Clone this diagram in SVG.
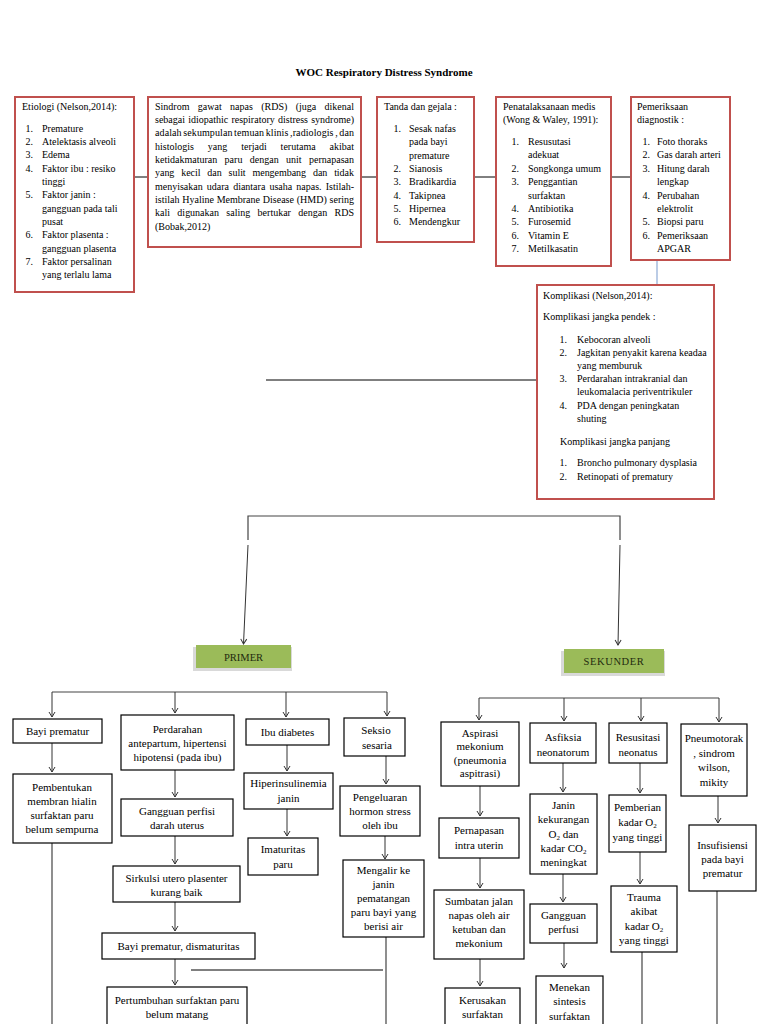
<svg xmlns="http://www.w3.org/2000/svg" width="768" height="1024" viewBox="0 0 768 1024">
<defs>
<marker id="ah" markerWidth="8" markerHeight="8" refX="6" refY="4" orient="auto" markerUnits="userSpaceOnUse"><path d="M1,1 L6,4 L1,7" fill="none" stroke="#333" stroke-width="1"/></marker>
<style>
.rb{fill:#fff;stroke:#c0504d;stroke-width:2}
.bb{fill:#fff;stroke:#000;stroke-width:1.2}
.gb{fill:#9bbb59;stroke:none}
.gs{fill:#d9d9d9;stroke:none}
.t{font-family:"Liberation Serif","Times New Roman",serif;font-size:10px;fill:#000}
.n{font-family:"Liberation Serif","Times New Roman",serif;font-size:10px;fill:#000;text-anchor:end}
.f{font-family:"Liberation Serif","Times New Roman",serif;font-size:11px;fill:#000;text-anchor:middle}
.g{font-family:"Liberation Serif","Times New Roman",serif;font-size:10.5px;fill:#1e2a0e;text-anchor:middle}
.title{font-family:"Liberation Serif","Times New Roman",serif;font-size:11px;font-weight:bold;fill:#000;text-anchor:middle}
.ln{stroke:#000;stroke-width:1;fill:none}
.gl{stroke:#444;stroke-width:1.2;fill:none}
.ar{stroke:#333;stroke-width:1;fill:none;marker-end:url(#ah)}
.sub{font-size:7px}
</style>
</defs>
<rect width="768" height="1024" fill="#fff"/>
<text class="title" x="384" y="76">WOC Respiratory Distress Syndrome</text>

<g id="connectors">
<line class="ln" x1="134" y1="177" x2="148" y2="177"/>
<line class="ln" x1="361" y1="177" x2="377" y2="177"/>
<line class="ln" x1="474" y1="177" x2="496" y2="177"/>
<line class="ln" x1="611" y1="177" x2="631" y2="177"/>
<line x1="657" y1="261" x2="657" y2="285" stroke="#8eaad6" stroke-width="1.2"/>
<line class="ln" x1="266" y1="380" x2="537" y2="380"/>
<path class="gl" d="M248,540 V516 H620 V540"/>
<line class="ar" x1="248" y1="545" x2="243.5" y2="644"/>
<line class="ar" x1="620" y1="545" x2="618" y2="645"/>
<line class="gl" x1="52" y1="692" x2="387" y2="692"/>
<line class="ar" x1="52" y1="692" x2="52" y2="717"/>
<line class="ar" x1="175" y1="692" x2="175" y2="713"/>
<line class="ar" x1="286" y1="692" x2="286" y2="717"/>
<line class="ar" x1="387" y1="692" x2="387" y2="716"/>
<line class="gl" x1="479" y1="698" x2="719" y2="698"/>
<line class="ar" x1="479" y1="698" x2="479" y2="720"/>
<line class="ar" x1="564" y1="698" x2="564" y2="721"/>
<line class="ar" x1="641" y1="698" x2="641" y2="721"/>
<line class="ar" x1="719" y1="698" x2="719" y2="722"/>
<line class="ar" x1="52" y1="743" x2="52" y2="772"/>
<line class="ar" x1="175" y1="770" x2="175" y2="797"/>
<line class="ar" x1="175" y1="836" x2="175" y2="864"/>
<line class="ar" x1="175" y1="902" x2="175" y2="931"/>
<line class="ar" x1="175" y1="959" x2="175" y2="985"/>
<line class="ar" x1="287" y1="745" x2="287" y2="771"/>
<line class="ar" x1="287" y1="809" x2="287" y2="836"/>
<line class="ar" x1="386" y1="756" x2="386" y2="784"/>
<line class="ar" x1="385" y1="836" x2="385" y2="859"/>
<line class="gl" x1="52" y1="843" x2="52" y2="1024"/>
<line class="gl" x1="386" y1="937" x2="386" y2="1024"/>
<line class="ln" x1="191" y1="970" x2="383" y2="970"/>
<line class="ar" x1="480" y1="786" x2="480" y2="816"/>
<line class="ar" x1="480" y1="858" x2="480" y2="888"/>
<line class="ar" x1="480" y1="959" x2="480" y2="986"/>
<line class="ar" x1="563" y1="763" x2="563" y2="792"/>
<line class="ar" x1="563" y1="874" x2="563" y2="902"/>
<line class="ar" x1="564" y1="943" x2="564" y2="968"/>
<line class="ar" x1="640" y1="763" x2="640" y2="793"/>
<line class="ar" x1="640" y1="852" x2="640" y2="884"/>
<line class="ar" x1="718" y1="796" x2="718" y2="823"/>
<line class="gl" x1="642" y1="952" x2="642" y2="1024"/>
<line class="gl" x1="717" y1="891" x2="717" y2="1024"/>
</g>

<g id="etiologi">
<rect class="rb" x="15" y="97" width="119" height="195"/>
<text class="t" x="22" y="109.5">Etiologi (Nelson,2014):</text>
<text class="n" x="33" y="131.5">1.</text><text class="t" x="42" y="131.5">Premature</text>
<text class="n" x="33" y="144.8">2.</text><text class="t" x="42" y="144.8">Atelektasis alveoli</text>
<text class="n" x="33" y="158.1">3.</text><text class="t" x="42" y="158.1">Edema</text>
<text class="n" x="33" y="171.5">4.</text><text class="t" x="42" y="171.5">Faktor ibu : resiko</text>
<text class="t" x="42" y="184.8">tinggi</text>
<text class="n" x="33" y="198.1">5.</text><text class="t" x="42" y="198.1">Faktor janin :</text>
<text class="t" x="42" y="211.5">gangguan pada tali</text>
<text class="t" x="42" y="224.8">pusat</text>
<text class="n" x="33" y="238.1">6.</text><text class="t" x="42" y="238.1">Faktor plasenta :</text>
<text class="t" x="42" y="251.5">gangguan plasenta</text>
<text class="n" x="33" y="264.8">7.</text><text class="t" x="42" y="264.8">Faktor persalinan</text>
<text class="t" x="42" y="278.1">yang terlalu lama</text>
</g>

<g id="definisi">
<rect class="rb" x="148" y="97" width="213" height="150"/>
<text class="t" x="155" y="109.5" word-spacing="5.8" textLength="199" lengthAdjust="spacing">Sindrom gawat napas (RDS) (juga dikenal</text>
<text class="t" x="155" y="122.8" word-spacing="0.7" textLength="199" lengthAdjust="spacing">sebagai idiopathic respiratory distress syndrome)</text>
<text class="t" x="155" y="136.2" word-spacing="-1" textLength="199" lengthAdjust="spacing">adalah sekumpulan temuan klinis ,radiologis , dan</text>
<text class="t" x="155" y="149.5" word-spacing="11.4" textLength="199" lengthAdjust="spacing">histologis yang terjadi terutama akibat</text>
<text class="t" x="155" y="162.8" word-spacing="4.9" textLength="199" lengthAdjust="spacing">ketidakmaturan paru dengan unit pernapasan</text>
<text class="t" x="155" y="176.2" word-spacing="4.4" textLength="199" lengthAdjust="spacing">yang kecil dan sulit mengembang dan tidak</text>
<text class="t" x="155" y="189.5" word-spacing="1.6" textLength="199" lengthAdjust="spacing">menyisakan udara diantara usaha napas. Istilah-</text>
<text class="t" x="155" y="202.8" word-spacing="0.3" textLength="199" lengthAdjust="spacing">istilah Hyaline Membrane Disease (HMD) sering</text>
<text class="t" x="155" y="216.2" word-spacing="4.9" textLength="199" lengthAdjust="spacing">kali digunakan saling bertukar dengan RDS</text>
<text class="t" x="155" y="229.5">(Bobak,2012)</text>
</g>

<g id="tanda">
<rect class="rb" x="377" y="97" width="97" height="145"/>
<text class="t" x="384" y="109.5">Tanda dan gejala :</text>
<text class="n" x="401" y="131.5">1.</text><text class="t" x="409" y="131.5">Sesak nafas</text>
<text class="t" x="409" y="145">pada bayi</text>
<text class="t" x="409" y="158.5">premature</text>
<text class="n" x="401" y="172">2.</text><text class="t" x="409" y="172">Sianosis</text>
<text class="n" x="401" y="185">3.</text><text class="t" x="409" y="185">Bradikardia</text>
<text class="n" x="401" y="198.5">4.</text><text class="t" x="409" y="198.5">Takipnea</text>
<text class="n" x="401" y="211.5">5.</text><text class="t" x="409" y="211.5">Hipernea</text>
<text class="n" x="401" y="224.5">6.</text><text class="t" x="409" y="224.5">Mendengkur</text>
</g>

<g id="penatalaksanaan">
<rect class="rb" x="496" y="97" width="115" height="169"/>
<text class="t" x="503" y="109.5">Penatalaksanaan medis</text>
<text class="t" x="503" y="122.8">(Wong &amp; Waley, 1991):</text>
<text class="n" x="519" y="144.5">1.</text><text class="t" x="528" y="144.5">Resusutasi</text>
<text class="t" x="528" y="158">adekuat</text>
<text class="n" x="519" y="171.5">2.</text><text class="t" x="528" y="171.5">Songkonga umum</text>
<text class="n" x="519" y="185">3.</text><text class="t" x="528" y="185">Penggantian</text>
<text class="t" x="528" y="198.5">surfaktan</text>
<text class="n" x="519" y="211.5">4.</text><text class="t" x="528" y="211.5">Antibiotika</text>
<text class="n" x="519" y="225">5.</text><text class="t" x="528" y="225">Furosemid</text>
<text class="n" x="519" y="238.5">6.</text><text class="t" x="528" y="238.5">Vitamin E</text>
<text class="n" x="519" y="252">7.</text><text class="t" x="528" y="252">Metilkasatin</text>
</g>

<g id="pemeriksaan">
<rect class="rb" x="631" y="97" width="99" height="163"/>
<text class="t" x="637" y="109.5">Pemeriksaan</text>
<text class="t" x="637" y="122.8">diagnostik :</text>
<text class="n" x="650" y="144.5">1.</text><text class="t" x="657" y="144.5">Foto thoraks</text>
<text class="n" x="650" y="158">2.</text><text class="t" x="657" y="158">Gas darah arteri</text>
<text class="n" x="650" y="171.5">3.</text><text class="t" x="657" y="171.5">Hitung darah</text>
<text class="t" x="657" y="185">lengkap</text>
<text class="n" x="650" y="198.5">4.</text><text class="t" x="657" y="198.5">Perubahan</text>
<text class="t" x="657" y="211.5">elektrolit</text>
<text class="n" x="650" y="225">5.</text><text class="t" x="657" y="225">Biopsi paru</text>
<text class="n" x="650" y="238.5">6.</text><text class="t" x="657" y="238.5">Pemeriksaan</text>
<text class="t" x="657" y="252">APGAR</text>
</g>

<g id="komplikasi">
<rect class="rb" x="537" y="285" width="177" height="214"/>
<text class="t" x="543" y="298.5">Komplikasi (Nelson,2014):</text>
<text class="t" x="543" y="319.5">Komplikasi jangka pendek :</text>
<text class="n" x="567" y="342.5">1.</text><text class="t" x="577" y="342.5">Kebocoran alveoli</text>
<text class="n" x="567" y="355.5">2.</text><text class="t" x="577" y="355.5">Jagkitan penyakit karena keadaa</text>
<text class="t" x="577" y="368.5">yang memburuk</text>
<text class="n" x="567" y="381.5">3.</text><text class="t" x="577" y="381.5">Perdarahan intrakranial dan</text>
<text class="t" x="577" y="395">leukomalacia periventrikuler</text>
<text class="n" x="567" y="408.5">4.</text><text class="t" x="577" y="408.5">PDA dengan peningkatan</text>
<text class="t" x="577" y="422">shuting</text>
<text class="t" x="560" y="445">Komplikasi jangka panjang</text>
<text class="n" x="567" y="466">1.</text><text class="t" x="577" y="466">Broncho pulmonary dysplasia</text>
<text class="n" x="567" y="479.5">2.</text><text class="t" x="577" y="479.5">Retinopati of prematury</text>
</g>

<g id="primer">
<rect class="gs" x="193" y="647" width="99" height="24"/>
<rect class="gb" x="196" y="645" width="95" height="23"/>
<text class="g" x="243.5" y="660.5">PRIMER</text>
</g>
<g id="sekunder">
<rect class="gs" x="561" y="651" width="104" height="25"/>
<rect class="gb" x="564" y="649" width="100" height="24"/>
<text class="g" x="614" y="665" letter-spacing="0.6">SEKUNDER</text>
</g>

<g id="bayi-prematur">
<rect class="bb" x="13" y="719" width="89" height="24"/>
<text class="f" x="57.5" y="735">Bayi prematur</text>
</g>
<g id="perdarahan">
<rect class="bb" x="121" y="715" width="113" height="55"/>
<text class="f" x="177.5" y="732.5">Perdarahan</text>
<text class="f" x="177.5" y="746.5">antepartum, hipertensi</text>
<text class="f" x="177.5" y="760.5">hipotensi (pada ibu)</text>
</g>
<g id="ibu-diabetes">
<rect class="bb" x="246" y="719" width="83" height="26"/>
<text class="f" x="287.5" y="736">Ibu diabetes</text>
</g>
<g id="seksio">
<rect class="bb" x="344" y="718" width="61" height="38"/>
<text class="f" x="376" y="733.5">Seksio</text>
<text class="f" x="377" y="748.5">sesaria</text>
</g>
<g id="pembentukan">
<rect class="bb" x="13" y="774" width="99" height="69"/>
<text class="f" x="62" y="790.5">Pembentukan</text>
<text class="f" x="62" y="804.5">membran hialin</text>
<text class="f" x="62" y="818.5">surfaktan paru</text>
<text class="f" x="62" y="832.5">belum sempurna</text>
</g>
<g id="gangguan-perfusi-primer">
<rect class="bb" x="121" y="799" width="112" height="37"/>
<text class="f" x="177" y="814.5">Gangguan perfisi</text>
<text class="f" x="177" y="828.5">darah uterus</text>
</g>
<g id="sirkulasi">
<rect class="bb" x="113" y="866" width="127" height="36"/>
<text class="f" x="176.5" y="881.5">Sirkulsi utero plasenter</text>
<text class="f" x="176.5" y="895.5">kurang baik</text>
</g>
<g id="dismaturitas">
<rect class="bb" x="102" y="933" width="153" height="26"/>
<text class="f" x="178.5" y="950">Bayi prematur, dismaturitas</text>
</g>
<g id="pertumbuhan">
<rect class="bb" x="107" y="987" width="140" height="45"/>
<text class="f" x="177" y="1003.5">Pertumbuhan surfaktan paru</text>
<text class="f" x="177" y="1017.5">belum matang</text>
</g>
<g id="hiperinsulinemia">
<rect class="bb" x="244" y="773" width="89" height="36"/>
<text class="f" x="288.5" y="786.5">Hiperinsulinemia</text>
<text class="f" x="288.5" y="801.5">janin</text>
</g>
<g id="imaturitas">
<rect class="bb" x="248" y="838" width="70" height="37"/>
<text class="f" x="283" y="852.5">Imaturitas</text>
<text class="f" x="283" y="867.5">paru</text>
</g>
<g id="pengeluaran">
<rect class="bb" x="340" y="786" width="80" height="50"/>
<text class="f" x="380" y="800.5">Pengeluaran</text>
<text class="f" x="380" y="814.5">hormon stress</text>
<text class="f" x="380" y="828.5">oleh ibu</text>
</g>
<g id="mengalir">
<rect class="bb" x="343" y="860" width="81" height="77"/>
<text class="f" x="383.5" y="873.5">Mengalir ke</text>
<text class="f" x="383.5" y="887.5">janin</text>
<text class="f" x="383.5" y="901.5">pematangan</text>
<text class="f" x="383.5" y="915.5">paru bayi yang</text>
<text class="f" x="383.5" y="929.5">berisi air</text>
</g>

<g id="aspirasi">
<rect class="bb" x="441" y="722" width="78" height="64"/>
<text class="f" x="480" y="736.5">Aspirasi</text>
<text class="f" x="480" y="750">mekonium</text>
<text class="f" x="480" y="763.5">(pneumonia</text>
<text class="f" x="480" y="777">aspitrasi)</text>
</g>
<g id="asfiksia">
<rect class="bb" x="530" y="723" width="66" height="40"/>
<text class="f" x="563" y="740.5">Asfiksia</text>
<text class="f" x="563" y="755.5">neonatorum</text>
</g>
<g id="resusitasi">
<rect class="bb" x="609" y="723" width="58" height="40"/>
<text class="f" x="638" y="740.5">Resusitasi</text>
<text class="f" x="638" y="755.5">neonatus</text>
</g>
<g id="pneumotorak">
<rect class="bb" x="681" y="724" width="66" height="72"/>
<text class="f" x="714" y="741.5">Pneumotorak</text>
<text class="f" x="714" y="756.5">, sindrom</text>
<text class="f" x="714" y="770.5">wilson,</text>
<text class="f" x="714" y="785.5">mikity</text>
</g>
<g id="pernapasan">
<rect class="bb" x="439" y="818" width="80" height="40"/>
<text class="f" x="479" y="833.5">Pernapasan</text>
<text class="f" x="479" y="848.5">intra uterin</text>
</g>
<g id="sumbatan">
<rect class="bb" x="434" y="890" width="90" height="69"/>
<text class="f" x="479" y="904.5">Sumbatan jalan</text>
<text class="f" x="479" y="918.5">napas oleh air</text>
<text class="f" x="479" y="932.5">ketuban dan</text>
<text class="f" x="479" y="946.5">mekonium</text>
</g>
<g id="kerusakan">
<rect class="bb" x="445" y="988" width="75" height="45"/>
<text class="f" x="482.5" y="1003.5">Kerusakan</text>
<text class="f" x="482.5" y="1017.5">surfaktan</text>
</g>
<g id="janin">
<rect class="bb" x="530" y="794" width="67" height="80"/>
<text class="f" x="563.5" y="808.5">Janin</text>
<text class="f" x="563.5" y="822.5">kekurangan</text>
<text class="f" x="563.5" y="837.5">O<tspan class="sub" dy="2">2</tspan><tspan dy="-2"> dan</tspan></text>
<text class="f" x="563.5" y="851.5">kadar CO<tspan class="sub" dy="2">2</tspan></text>
<text class="f" x="563.5" y="865.5">meningkat</text>
</g>
<g id="gangguan-perfusi-sekunder">
<rect class="bb" x="530" y="904" width="67" height="39"/>
<text class="f" x="563.5" y="918.5">Gangguan</text>
<text class="f" x="563.5" y="932.5">perfusi</text>
</g>
<g id="menekan">
<rect class="bb" x="536" y="976" width="67" height="56"/>
<text class="f" x="569.5" y="990.5">Menekan</text>
<text class="f" x="569.5" y="1004.5">sintesis</text>
<text class="f" x="569.5" y="1019.5">surfaktan</text>
</g>
<g id="pemberian">
<rect class="bb" x="609" y="795" width="57" height="57"/>
<text class="f" x="637.5" y="810.5">Pemberian</text>
<text class="f" x="637.5" y="825.5">kadar O<tspan class="sub" dy="2">2</tspan></text>
<text class="f" x="637.5" y="840.5">yang tinggi</text>
</g>
<g id="trauma">
<rect class="bb" x="611" y="886" width="66" height="66"/>
<text class="f" x="644" y="900.5">Trauma</text>
<text class="f" x="644" y="914.5">akibat</text>
<text class="f" x="644" y="929.5">kadar O<tspan class="sub" dy="2">2</tspan></text>
<text class="f" x="644" y="943.5">yang tinggi</text>
</g>
<g id="insufisiensi">
<rect class="bb" x="689" y="825" width="67" height="66"/>
<text class="f" x="722.5" y="848.5">Insufisiensi</text>
<text class="f" x="722.5" y="862.5">pada bayi</text>
<text class="f" x="722.5" y="876.5">prematur</text>
</g>
</svg>
